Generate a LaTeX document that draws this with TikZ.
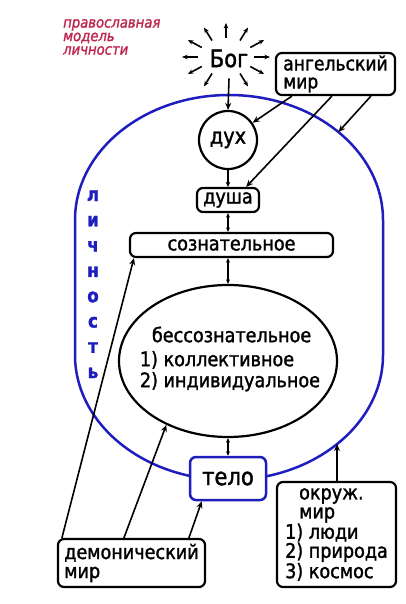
\documentclass[tikz,border=0pt]{standalone}
\usepackage{fontspec}
\setmainfont{DejaVu Sans}[FakeStretch=0.88,FakeBold=1.5]
\usetikzlibrary{arrows.meta,calc,shapes.geometric}
\definecolor{bl}{RGB}{30,30,190}
\definecolor{rd}{RGB}{190,40,80}
\begin{document}
\begin{tikzpicture}[x=1pt,y=-1pt,
  arr/.style={line width=1.6pt,-{Stealth[length=7pt,width=6pt]}},
  rayarr/.style={line width=1.6pt,-{Stealth[length=5.5pt,width=4.5pt]}},
  darr/.style={line width=1.3pt,{Stealth[length=4.5pt,width=4pt]}-{Stealth[length=4.5pt,width=4pt]}},
  box/.style={draw,line width=2.2pt,rounded corners=6pt,fill=white,inner sep=0pt},
  f20/.style={font=\fontsize{20}{19}\selectfont},
  f24/.style={font=\fontsize{24}{24}\selectfont}]
\useasboundingbox (0,0) rectangle (405,604);
\fill[white] (0,0) rectangle (405,604);

% blue outline of the person
\draw[bl,line width=2.5pt] (75,220) arc[start angle=180,end angle=0,x radius=154pt,y radius=125pt]
  -- (383,355) arc[start angle=0,end angle=-180,x radius=154pt,y radius=125pt] -- cycle;

% title
\node[align=left,anchor=north west,inner sep=0pt,text=rd,font=\itshape\fontsize{15}{13.5}\selectfont] (title) at (63,19) {православная\\модель\\личности};

% vertical word
\foreach \l [count=\i] in {л,и,ч,н,о,с,т,ь}
  \node[anchor=base,inner sep=0pt,text=bl,font=\bfseries\fontsize{19}{19}\selectfont] (L\i) at (93,{201+(\i-1)*25.3}) {\l};

% nodes
\node[f24,inner sep=0pt] (bog) at (229,58.5) {Бог};
\node[draw,line width=2.2pt,circle,minimum size=58pt,inner sep=0pt,fill=white,font=\fontsize{22}{22}\selectfont] (dux) at (228,140) {дух};
\node[box,f20,minimum width=62pt,minimum height=24pt] (dusha) at (228,200) {душа};
\node[box,f20,minimum width=203pt,minimum height=24pt] (soz) at (231.5,245) {сознательное};
\node[draw,line width=2.2pt,ellipse,minimum width=218pt,minimum height=152pt,inner sep=0pt] (bes) at (228,361) {};
\node[align=left,inner sep=0pt,font=\fontsize{20}{21}\selectfont] (bestext) at (230,359) {\hspace*{12pt}бессознательное\\[3pt]1) коллективное\\2) индивидуальное};
\node[draw=bl,line width=2.5pt,rounded corners=6pt,fill=white,inner sep=0pt,minimum width=76pt,minimum height=43pt,f24] (telo) at (228,478.5) {тело};
\node[box,align=left,minimum width=119pt,minimum height=42pt,font=\fontsize{19.5}{18}\selectfont] (ang) at (335.5,74) {ангельский\\мир};
\node[box,f20,align=left,minimum width=147pt,minimum height=48pt] (dem) at (131.5,563) {демонический\\мир};
\node[box,f20,align=left,minimum width=119pt,minimum height=105pt] (okr) at (336.5,534.5) {\hspace*{14pt}окруж.\\\hspace*{14pt}мир\\1) люди\\2) природа\\3) космос};

% rays of God
\foreach \a in {0,30,60,90,120,150,180,210,240,300,330}
  \draw[rayarr] ($(bog.center)+(-3pt,1.5pt)+(\a:28pt and 19pt)$) -- ($(bog.center)+(-3pt,1.5pt)+(\a:44pt and 34pt)$);
\draw[arr] ([yshift=-20pt]bog.center) -- (dux.north);

% angelic world
\coordinate (hitA) at (338.4,132);
\draw[arr] ([xshift=17pt]ang.south west) -- (dux.35);
\draw[arr] ([xshift=57pt]ang.south west) -- ([xshift=-14pt]dusha.north east);
\draw[arr] ([xshift=96pt]ang.south west) -- (hitA);

% vertical chain
\draw[darr,-{Stealth[length=5pt,width=4.5pt]}] (dux.south) -- (dusha.north);
\draw[darr] (dusha.south) -- (dusha.south |- soz.north);
\draw[darr] (bes.north |- soz.south) -- (bes.north);
\draw[darr] (bes.south) -- (telo.north);

% demonic world
\draw[arr] ([xshift=5pt]dem.north west) -- ([xshift=5pt]soz.south west);
\draw[arr] ([xshift=67pt]dem.north west) -- (bes.226);
\draw[arr] ([xshift=132pt]dem.north west) -- ([xshift=13pt]telo.south west);

% surrounding world
\coordinate (hitB) at (337,444);
\draw[arr] (okr.north -| hitB) -- (hitB);
\end{tikzpicture}
\end{document}
